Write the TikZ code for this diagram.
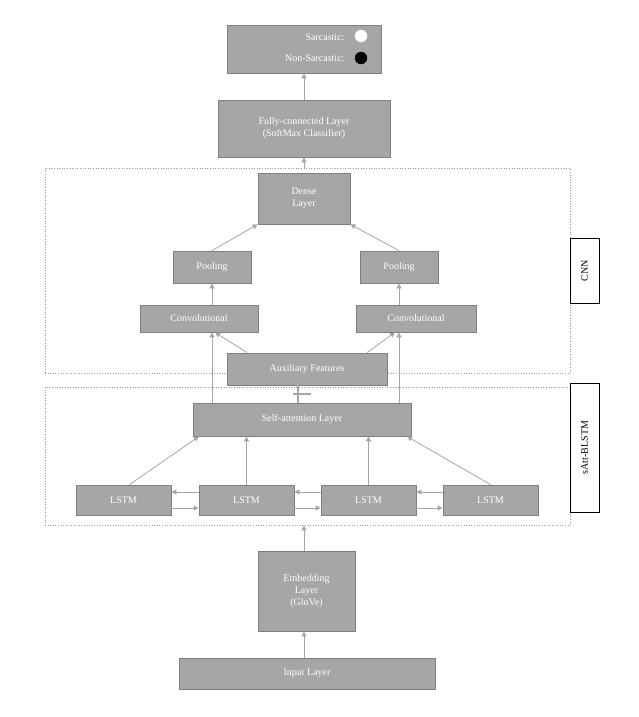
\documentclass[tikz,border=0pt]{standalone}
\usepackage{fontspec}
\setmainfont{Liberation Serif}
\usetikzlibrary{arrows.meta}
\definecolor{bfill}{HTML}{A6A6A6}
\definecolor{bdraw}{HTML}{7F7F7F}
\definecolor{ln}{HTML}{A6A6A6}
\begin{document}
\begin{tikzpicture}[x=1pt,y=-1pt,
 box/.style={draw=bdraw,fill=bfill,line width=0.8pt,text=white,font=\fontsize{10}{12}\selectfont,align=center,inner sep=0pt},
 arr/.style={draw=ln,line width=0.8pt,-{Triangle[width=5pt,length=5pt]}},
 frame/.style={draw=gray!80,dotted,line width=0.6pt},
 lab/.style={draw=black,line width=0.5pt,fill=white,rotate=90,font=\fontsize{10}{12}\selectfont,inner sep=0pt}]
\useasboundingbox (0,0) rectangle (638,717);
\node[frame,minimum width=525pt,minimum height=205pt] (cnnf) at (307.5,270.5) {};
\node[frame,minimum width=525pt,minimum height=138pt] (attf) at (307.5,456) {};
\node[lab,minimum width=65pt,minimum height=29pt] (cnnl) at (584.5,270.5) {CNN};
\node[lab,minimum width=129pt,minimum height=29pt] (attl) at (584.5,447.5) {sAtt-BLSTM};
\node[box,minimum width=154pt,minimum height=48pt] (out) at (304,49) {};
\node[text=white,font=\fontsize{10}{12}\selectfont,anchor=east] (s1) at (348,37) {Sarcastic:};
\node[text=white,font=\fontsize{10}{12}\selectfont,anchor=east] (s2) at (348,58) {Non-Sarcastic:};
\node[circle,fill=white,draw=white,minimum size=12pt,inner sep=0pt] (c1) at (361,36) {};
\node[circle,fill=black,draw=black,minimum size=12pt,inner sep=0pt] (c2) at (361,58) {};
\node[box,minimum width=172pt,minimum height=57pt] (fc) at (304,128.5) {Fully-connected Layer\\(SoftMax Classifier)};
\node[box,minimum width=92pt,minimum height=51pt] (dense) at (304,198.5) {Dense\\Layer};
\node[box,minimum width=78pt,minimum height=32pt] (pl) at (212,267) {Pooling};
\node[box,minimum width=78pt,minimum height=32pt] (pr) at (399,267) {Pooling};
\node[box,minimum width=118pt,minimum height=27pt] (cl) at (199,318.5) {Convolutional};
\node[box,minimum width=120pt,minimum height=27pt] (cr) at (416,318.5) {Convolutional};
\node[box,minimum width=160pt,minimum height=32pt] (aux) at (307,369) {Auxiliary Features};
\node[box,minimum width=218pt,minimum height=33pt] (att) at (302,419.5) {Self-attention Layer};
\node[box,minimum width=95pt,minimum height=30pt] (l1) at (123.5,500) {LSTM};
\node[box,minimum width=95pt,minimum height=30pt] (l2) at (246.5,500) {LSTM};
\node[box,minimum width=95pt,minimum height=30pt] (l3) at (368.5,500) {LSTM};
\node[box,minimum width=95pt,minimum height=30pt] (l4) at (490.5,500) {LSTM};
\node[box,minimum width=97pt,minimum height=80pt] (emb) at (306.5,591) {Embedding\\Layer\\(GloVe)};
\node[box,minimum width=256pt,minimum height=31pt] (inp) at (307,673.5) {Input Layer};
% arrows
\draw[arr] (fc.north) -- (out.south);
\draw[arr] (cnnf.north -| fc.south) -- (fc.south);
\draw[arr] (pl.north) -- (dense.south west);
\draw[arr] (pr.north) -- (dense.south east);
\draw[arr] (cl.north -| pl) -- (pl.south);
\draw[arr] (cr.north -| pr) -- (pr.south);
\draw[arr] ([xshift=-60pt]aux.north) -- ([xshift=16pt]cl.south);
\draw[arr] ([xshift=60pt]aux.north) -- ([xshift=-21pt]cr.south);
\draw[arr] ([xshift=-90pt]att.north) -- ([xshift=13pt]cl.south);
\draw[arr] ([xshift=97pt]att.north) -- ([xshift=-17pt]cr.south);
\draw[ln,line width=2.5pt] ([xshift=-9pt]att.north |- 0,394) coordinate (pa) -- ++(18,0);
\draw[ln,line width=2.5pt] (aux.south -| 298,0) -- (att.north -| 298,0);
\draw[arr] ([xshift=6pt]l1.north) -- ([xshift=-103pt]att.south);
\draw[arr] (l2.north) -- (l2.north |- att.south);
\draw[arr] (l3.north) -- (l3.north |- att.south);
\draw[arr] ([xshift=0pt]l4.north) -- ([xshift=105pt]att.south);
\foreach \a/\b in {l1/l2,l2/l3,l3/l4}{
 \draw[arr] ([yshift=-8pt]\a.east) -- ([yshift=-8pt]\b.west);
 \draw[arr] ([yshift=8pt]\b.west) -- ([yshift=8pt]\a.east);
}
\draw[arr] (emb.north -| 304,0) -- (attf.south -| 304,0);
\draw[arr] (inp.north -| 304,0) -- (emb.south -| 304,0);
\end{tikzpicture}
\end{document}
